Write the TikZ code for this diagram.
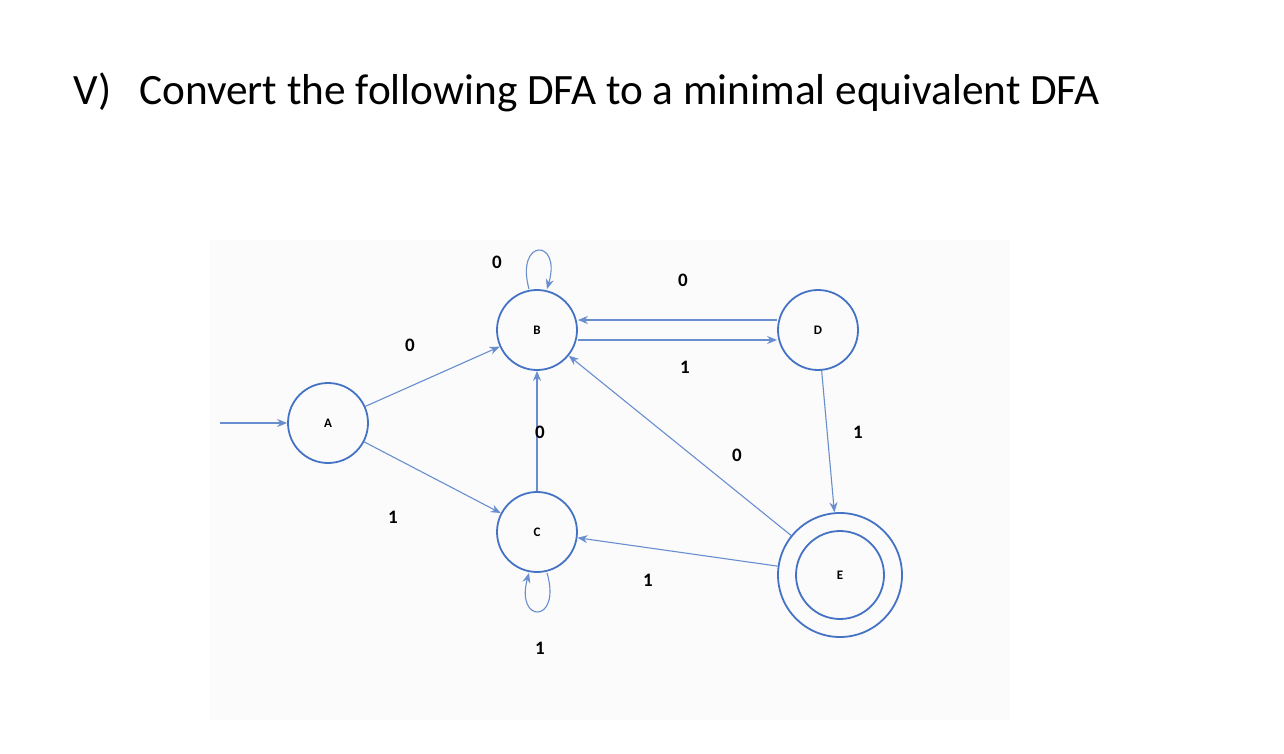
\documentclass[tikz,border=0pt]{standalone}
\usepackage{fontspec}
\setmainfont{Carlito}
\usetikzlibrary{arrows.meta}
\definecolor{bl}{HTML}{4472C4}
\begin{document}
\begin{tikzpicture}[x=1pt,y=-1pt,
 st/.style={circle,draw=bl,line width=1.8pt,minimum size=80pt,inner sep=0pt,font=\fontsize{13}{14}\selectfont\bfseries},
 ed/.style={draw=bl!80,line width=1.1pt,-{Stealth[length=10pt,width=8pt]}},
 lb/.style={font=\fontsize{19}{20}\selectfont\bfseries}]
\useasboundingbox (0,0) rectangle (1284,754);
\fill[black!1.5] (210,240) rectangle (1010,720);
\node[anchor=west,font=\fontsize{43.3}{46}\selectfont] (t) at (70,92) {V)\hspace{28pt}Convert the following DFA to a minimal equivalent DFA};
\node[st] (A) at (328,423) {A};
\node[st] (B) at (537,330) {B};
\node[st] (C) at (537,532) {C};
\node[st] (D) at (818,330) {D};
\node[st,minimum size=124pt] (E) at (840,575) {};
\node[st,minimum size=88pt] (Ei) at (840,575) {E};
\coordinate (s) at (220,423);
\draw[ed] (s) -- (A);
\draw[ed] (A) -- (B);
\draw[ed] (A) -- (C);
\draw[ed] (C) -- (B);
\draw[ed] ([yshift=10pt]D.west) -- ([yshift=10pt]B.east);
\draw[ed] ([yshift=-10pt]B.east) -- ([yshift=-10pt]D.west);
\draw[ed] (D) -- (E);
\draw[ed] (E) -- (B);
\draw[ed] (E) -- (C);
\draw[ed] ([xshift=-8pt]B.north) .. controls (515,238) and (562,238) .. ([xshift=10pt]B.north);
\draw[ed] ([xshift=10pt]C.south) .. controls (562,624) and (515,624) .. ([xshift=-8pt]C.south);
\node[lb] (l1) at (410,345) {0};
\node[lb] (l2) at (393,517) {1};
\node[lb] (l3) at (497,262) {0};
\node[lb] (l4) at (540,432) {0};
\node[lb] (l5) at (683,280) {0};
\node[lb] (l6) at (685,367) {1};
\node[lb] (l7) at (737,455) {0};
\node[lb] (l8) at (858,432) {1};
\node[lb] (l9) at (648,580) {1};
\node[lb] (l10) at (540,648) {1};
\end{tikzpicture}
\end{document}
